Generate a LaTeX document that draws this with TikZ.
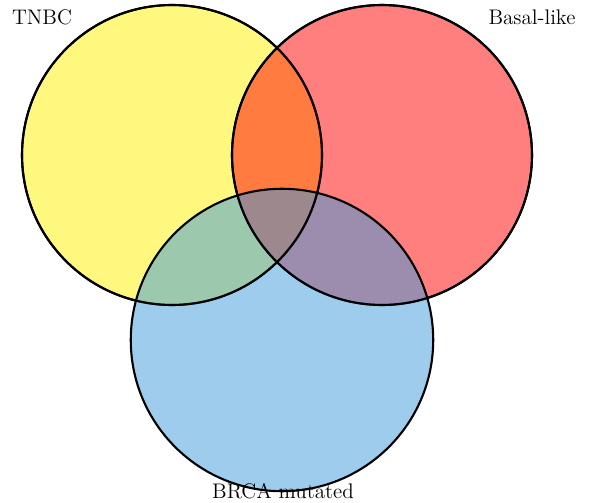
\documentclass[tikz,border=0pt]{standalone}
\usepackage{tikz}
\tikzstyle{set} = [draw=black, line width=1.2pt, fill opacity=0.5]
\tikzstyle{setlabel} = [font=\large, inner sep=1pt]
\begin{document}
\begin{tikzpicture}[x=0.02cm, y=-0.02cm]
\useasboundingbox (0,0) rectangle (600,503);

\node (tnbc) [circle, set, fill=yellow, minimum size=6cm] at (172,155) {};
\node (basal) [circle, set, fill=red, minimum size=6cm] at (382,155) {};
\node (brca) [circle, set, fill=cyan!70!blue!80, minimum size=6.05cm] at (282,340) {};
\draw [line width=1.2pt] (tnbc.center) circle (150);
\draw [line width=1.2pt] (basal.center) circle (150);

\node (tnbclabel) [setlabel] at (42,17) {TNBC};
\node (basallabel) [setlabel] at (532,17) {Basal-like};
\node (brcalabel) [setlabel] at (283,491) {BRCA mutated};
\end{tikzpicture}
\end{document}
